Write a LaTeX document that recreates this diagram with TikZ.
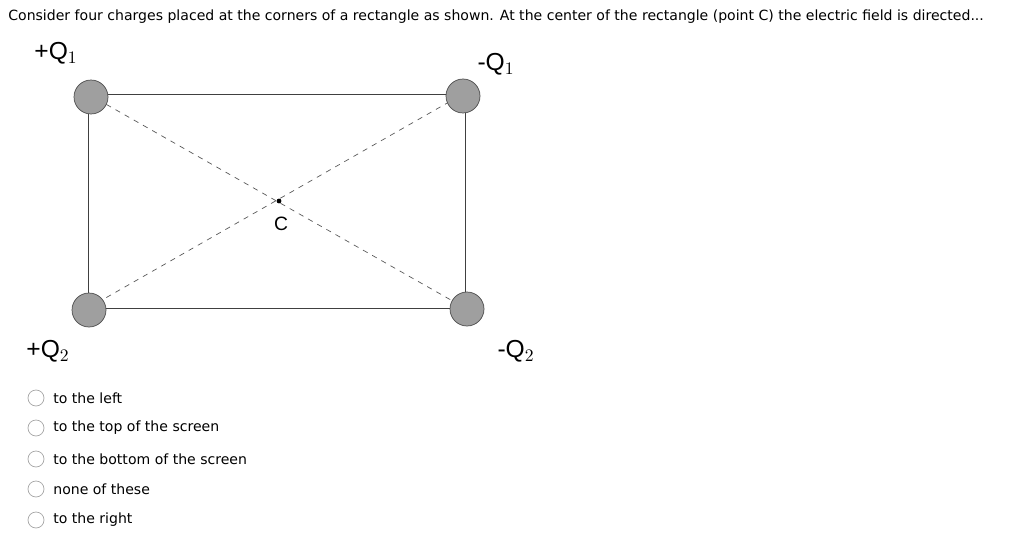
\documentclass[tikz,border=0pt]{standalone}
\usepackage{fontspec}
\setmainfont{DejaVu Sans}
\newfontfamily\qfont{Liberation Sans}
\tikzstyle{charge} = [draw=black!70, fill=gray!75, circle, minimum size=0.68cm, inner sep=0]
\tikzstyle{diag} = [dashed, draw=black!65, thin]
\tikzstyle{qlabel} = [font=\qfont\fontsize{14}{16}\selectfont, inner sep=0]
\tikzstyle{radio} = [draw=gray!70, circle, minimum size=0.32cm, inner sep=0]
\tikzstyle{opt} = [font=\fontsize{8}{10}\selectfont, anchor=west, inner sep=0]
\begin{document}
\begin{tikzpicture}[x=0.02cm,y=-0.02cm]
  \useasboundingbox (0,0) rectangle (1024,544);

%Nodes
	\node[anchor=west, inner sep=0, font=\fontsize{8}{10}\selectfont] (title) at (8,17) {Consider four charges placed at the corners of a rectangle as shown. At the center of the rectangle (point C) the electric field is directed...};
	\coordinate (tl) at (88,94);
	\coordinate (tr) at (463,94);
	\coordinate (bl) at (88,308);
	\coordinate (br) at (465,308);
	\coordinate (c) at (279,201);

%Connections
	\draw[black!75] (tl) rectangle (br);
	\draw[diag] (tl) -- (br);
	\draw[diag] (bl) -- (tr);
	\fill (c) circle (2.4);
	\node[font=\qfont\fontsize{11}{12}\selectfont] (lc) at (281,224) {C};

	\node[charge] (q1p) at (91,97) {};
	\node[charge] (q1m) at (463,96) {};
	\node[charge] (q2p) at (89,310) {};
	\node[charge] (q2m) at (467,309) {};

	\node[qlabel] (l1p) at (56,53) {+Q$_1$};
	\node[qlabel] (l1m) at (496,64) {-Q$_1$};
	\node[qlabel] (l2p) at (48,351) {+Q$_2$};
	\node[qlabel] (l2m) at (516,351) {-Q$_2$};

	\foreach \y/\t [count=\i] in {398/to the left, 428/to the top of the screen, 459/to the bottom of the screen, 489/none of these, 520/to the right}{
	\node[radio] (r\i) at (36,\y) {};
	\node[opt] (o\i) at (53,\y) {\t};
	}

\end{tikzpicture}
\end{document}
